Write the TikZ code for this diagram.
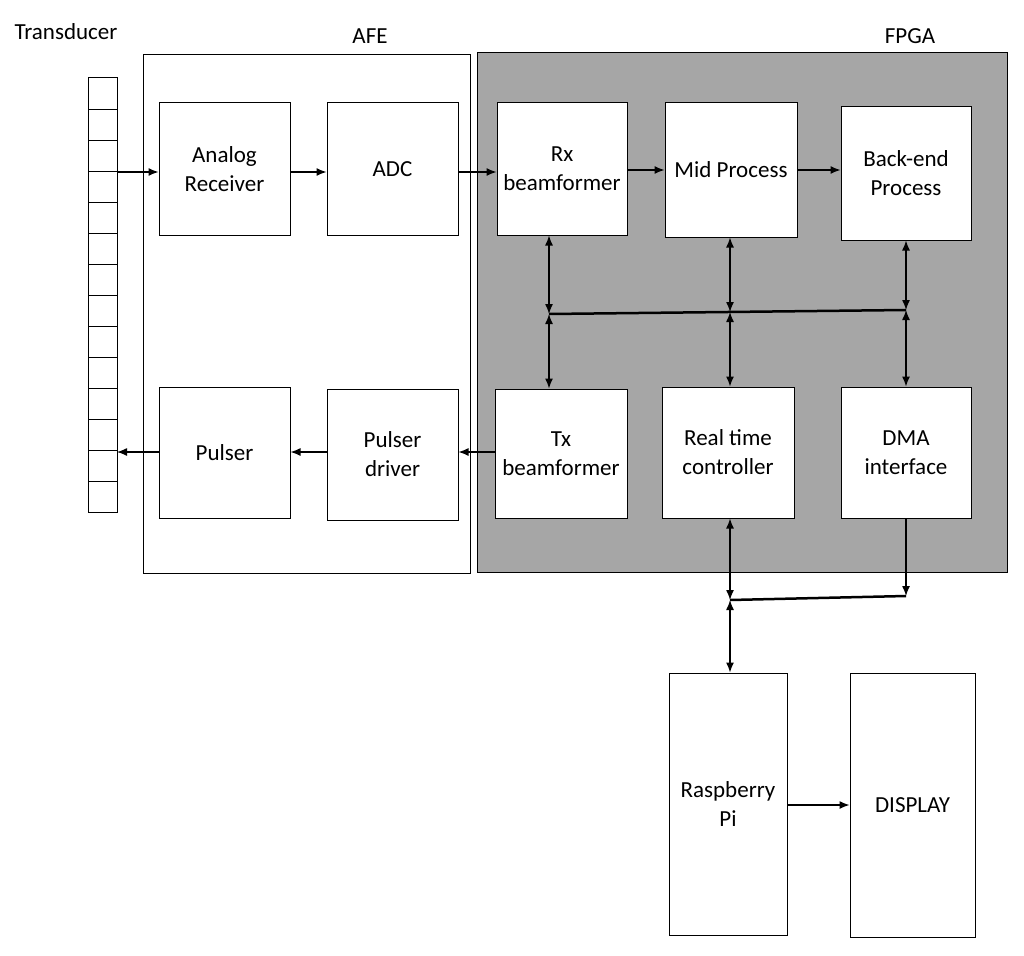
\documentclass[tikz,border=0pt]{standalone}
\usepackage{fontspec}
\setmainfont{Carlito}
\usetikzlibrary{arrows.meta}
\begin{document}
\begin{tikzpicture}[x=1pt,y=-1pt,
  blk/.style={draw,fill=white,line width=1pt,align=center,font=\fontsize{23}{29}\selectfont},
  lbl/.style={font=\fontsize{23}{29}\selectfont},
  arr/.style={line width=1.3pt,-{Latex[length=10pt,width=8pt]}},
  darr/.style={line width=1.3pt,{Latex[length=10pt,width=8pt]}-{Latex[length=10pt,width=8pt]}},
  bus/.style={line width=2.5pt}]
\useasboundingbox (0,0) rectangle (1024,955);
\node[lbl] (tl) at (66,32) {Transducer};
\node[lbl] (al) at (370,36) {AFE};
\node[lbl] (fl) at (910,36) {FPGA};
\draw[line width=1pt] (143,55) rectangle (470,573);
\draw[line width=1pt,fill=black!35] (477,53) rectangle (1007,572);
% transducer
\draw[line width=1pt] (88,78) rectangle (117,512);
\foreach \i in {1,...,13} \draw[line width=0.6pt] (88,{78+\i*31}) -- (117,{78+\i*31});
\coordinate (tin) at (117,172);
\coordinate (tout) at (117,452);
% blocks
\node[blk,minimum width=131pt,minimum height=132pt] (ar) at (224.5,169) {Analog\\Receiver};
\node[blk,minimum width=131pt,minimum height=132pt] (adc) at (392.5,169) {ADC};
\node[blk,minimum width=130pt,minimum height=132pt] (rx) at (562,169) {Rx\\beamformer};
\node[blk,minimum width=132pt,minimum height=134pt] (mid) at (731,170) {Mid Process};
\node[blk,minimum width=130pt,minimum height=133pt] (be) at (906,173.5) {Back-end\\Process};
\node[blk,minimum width=131pt,minimum height=131pt] (pu) at (224.5,452.5) {Pulser};
\node[blk,minimum width=131pt,minimum height=131pt] (pd) at (392.5,454.5) {Pulser\\driver};
\node[blk,minimum width=132pt,minimum height=129pt] (tx) at (561,453.5) {Tx\\beamformer};
\node[blk,minimum width=132pt,minimum height=131pt] (rt) at (728,452.5) {Real time\\controller};
\node[blk,minimum width=130pt,minimum height=131pt] (dma) at (906,452.5) {DMA\\interface};
\node[blk,minimum width=118pt,minimum height=262pt] (rp) at (728,804) {Raspberry\\Pi};
\node[blk,minimum width=125pt,minimum height=264pt] (di) at (912.5,805) {DISPLAY};
% top row arrows
\draw[arr] (tin) -- (ar.west|-tin);
\draw[arr] (ar.east|-tin) -- (adc.west|-tin);
\draw[arr] (adc.east|-tin) -- (rx.west|-tin);
\draw[arr] (rx.east|-0,170) -- (mid.west|-0,170);
\draw[arr] (mid.east|-0,170) -- (be.west|-0,170);
% bottom row arrows
\draw[arr] (tx.west|-0,452) -- (pd.east|-0,452);
\draw[arr] (pd.west|-0,452) -- (pu.east|-0,452);
\draw[arr] (pu.west|-0,452) -- (tout);
% internal bus
\coordinate (b1) at (549,314);
\coordinate (b2) at (730,312);
\coordinate (b3) at (906,310);
\draw[bus] (b1) -- (b3);
\draw[darr] (rx.south-|b1) -- (b1);
\draw[darr] (b1) -- (tx.north-|b1);
\draw[darr] (mid.south-|b2) -- (b2);
\draw[darr] (b2) -- (rt.north-|b2);
\draw[darr] (be.south-|b3) -- (b3);
\draw[darr] (b3) -- (dma.north-|b3);
% lower bus
\coordinate (c1) at (730,600);
\coordinate (c2) at (906,596);
\draw[bus] (c1) -- (c2);
\draw[darr] (rt.south-|c1) -- (c1);
\draw[arr] (dma.south-|c2) -- (c2);
\draw[darr] (c1) -- (rp.north-|c1);
\draw[arr] (rp.east|-0,805) -- (di.west|-0,805);
\end{tikzpicture}
\end{document}
